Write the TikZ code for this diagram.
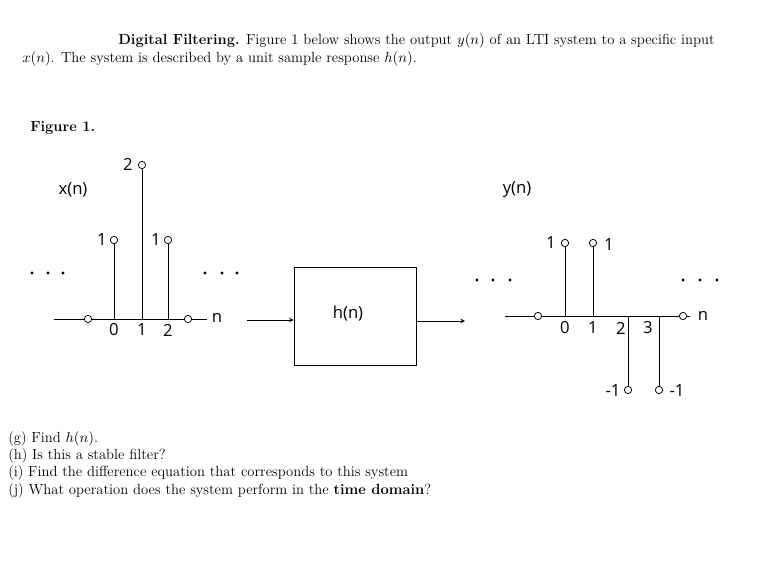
\documentclass[tikz,border=0pt]{standalone}
\usepackage{fontspec}
\newfontfamily\lab{Open Sans}
\begin{document}
\begin{tikzpicture}[x=0.75pt,y=-0.75pt,
  txt/.style={anchor=west,inner sep=0pt,font=\fontsize{11}{13}\selectfont},
  lb/.style={inner sep=0pt,font=\lab\fontsize{12.5}{14}\selectfont},
  stem/.style={line width=0.6pt},
  ball/.style={circle,draw,line width=0.6pt,inner sep=0pt,minimum size=5.5pt,fill=white},
  ax/.style={line width=0.6pt},
  arr/.style={->,>=stealth,line width=0.6pt}]
\useasboundingbox (0,0) rectangle (762,573);
\node[txt] (h1) at (118,41) {\textbf{Digital Filtering.} Figure 1 below shows the output $y(n)$ of an LTI system to a specific input};
\node[txt] (h2) at (22,59) {$x(n)$. The system is described by a unit sample response $h(n)$.};
\node[txt] (f1) at (30,128) {\textbf{Figure 1.}};
% left plot
\coordinate (la) at (54,319);
\coordinate (lb) at (207,319);
\draw[ax] (la) -- (lb);
\draw[stem] (114,319) -- (114,240) node[ball] (x0) {};
\draw[stem] (142,319) -- (142,165) node[ball] (x1) {};
\draw[stem] (168,319) -- (168,240) node[ball] (x2) {};
\node[ball] (xl) at (88,319) {};
\node[ball] (xr) at (188,319) {};
\node[lb] at (217,318) {n};
\node[lb] at (102,240) {1};
\node[lb] at (128,164) {2};
\node[lb] at (156,240) {1};
\node[lb] at (114,330) {0};
\node[lb] at (142,330) {1};
\node[lb] at (168,330) {2};
\node[lb] at (73,190) {x(n)};
\foreach \x in {32,48,63,205,222,237} \fill (\x,273) circle (1.2pt);
% box
\node[draw,line width=0.7pt,minimum width=92pt,minimum height=74pt,inner sep=0pt] (box) at (355.5,316.5) {};
\node[lb] at (348,313) {h(n)};
\coordinate (ain) at (247,320);
\draw[arr] (ain) -- (box.west |- ain);
\coordinate (aout) at (465,321);
\draw[arr] (box.east |- aout) -- (aout);
% right plot
\draw[ax] (505,316) -- (690,316);
\draw[stem] (565,316) -- (565,243) node[ball] {};
\draw[stem] (593,316) -- (593,243) node[ball] {};
\draw[stem] (628,316) -- (628,390) node[ball] {};
\draw[stem] (659,316) -- (659,390) node[ball] {};
\node[ball] at (538,316) {};
\node[ball] at (683,316) {};
\node[lb] at (703,316) {n};
\node[lb] at (551,243) {1};
\node[lb] at (609,245) {1};
\node[lb] at (613,391) {-1};
\node[lb] at (677,391) {-1};
\node[lb] at (565,328) {0};
\node[lb] at (593,328) {1};
\node[lb] at (621,328) {2};
\node[lb] at (648,328) {3};
\node[lb] at (517,190) {y(n)};
\foreach \x in {477,493,510,683,700,717} \fill (\x,280) circle (1.2pt);
% questions
\node[txt] (q1) at (8,439) {(g) Find $h(n)$.};
\node[txt] (q2) at (8,456) {(h) Is this a stable filter?};
\node[txt] (q3) at (8,473) {(i) Find the difference equation that corresponds to this system};
\node[txt] (q4) at (8,491) {(j) What operation does the system perform in the \textbf{time domain}?};
\end{tikzpicture}
\end{document}
